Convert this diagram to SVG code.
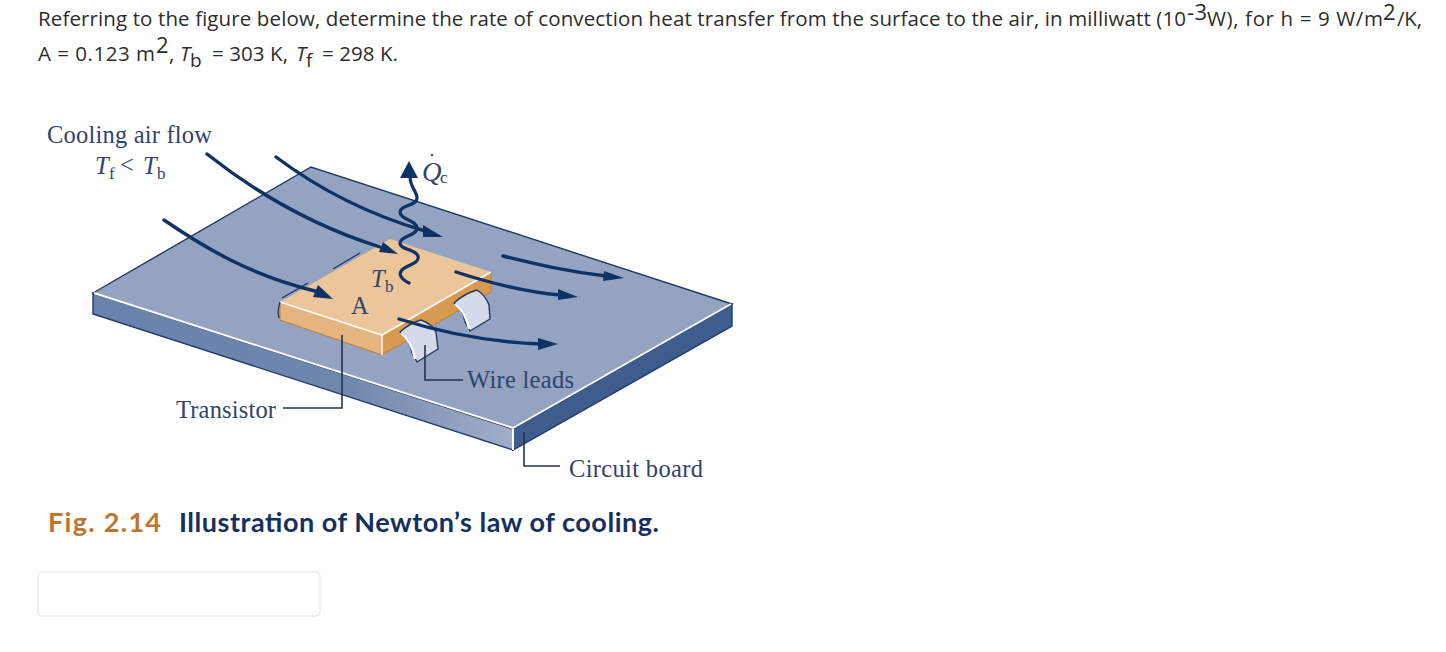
<svg xmlns="http://www.w3.org/2000/svg" width="1446" height="652" viewBox="0 0 1446 652">
<defs>
<linearGradient id="boardFront" gradientUnits="userSpaceOnUse" x1="93" y1="0" x2="513" y2="0">
<stop offset="0" stop-color="#6a82ab"/>
<stop offset="0.6" stop-color="#6f86ad"/>
<stop offset="1" stop-color="#a2aec8"/>
</linearGradient>
</defs>
<style>
.q{font-family:"Open Sans","Noto Sans",sans-serif;font-size:20.5px;fill:#2d2d2d}
.s{font-size:22px}
.u{font-size:19px}
.i{font-style:italic}
.l{font-family:"Liberation Serif",serif;font-size:24.5px;fill:#2f4468}
.t{font-size:17px}
.a{fill:none;stroke:#0f3264;stroke-width:3.4;stroke-linecap:round}
.h{fill:#0f3264}
.k{fill:none;stroke:#23324f;stroke-width:1.6}
.lead{fill:#d4daea;stroke:#22365f;stroke-width:1.4;stroke-linejoin:round}
.c{font-family:Lato,"Open Sans",sans-serif;font-weight:700;font-size:27px}
</style>
<rect width="1446" height="652" fill="#fff"/>
<g id="question">
<text class="q" x="38" y="26" textLength="1148">Referring to the figure below, determine the rate of convection heat transfer from the surface to the air, in milliwatt (10</text>
<text class="q s" x="1187" y="20" textLength="20">-3</text>
<text class="q" x="1207" y="26" textLength="176">W), for h = 9 W/m</text>
<text class="q s" x="1383" y="20">2</text>
<text class="q" x="1397" y="26" textLength="25">/K,</text>
<text class="q" x="38" y="61" textLength="117">A = 0.123 m</text>
<text class="q s" x="156" y="53">2</text>
<text class="q" x="169" y="61">,</text>
<text class="q i" x="180" y="61">T</text>
<text class="q u" x="190" y="67">b</text>
<text class="q" x="212" y="61" textLength="76">= 303 K,</text>
<text class="q i" x="296" y="61">T</text>
<text class="q u" x="306" y="67">f</text>
<text class="q" x="322" y="61" textLength="76">= 298 K.</text>
</g>
<g id="circuit-board">
<polygon points="93,293 311,167 732,304 513,429" fill="#94a3c2" stroke="#1f3a66" stroke-width="1.4"/>
<polygon points="93,293 513,429 513,450 93,314" fill="url(#boardFront)" stroke="#1f3a66" stroke-width="1.4"/>
<polygon points="513,429 732,304 732,326 513,450" fill="#3e5c8d" stroke="#1f3a66" stroke-width="1.4"/>
<polyline points="94,293 513,428 731,304" fill="none" stroke="#fff" stroke-width="2"/>
<line x1="513" y1="429" x2="513" y2="450" stroke="#fff" stroke-width="2"/>
</g>
<g id="transistor">
<polygon points="280,302 390,239 491,272 382,335" fill="#ecc59a"/>
<polygon points="280,302 382,335 382,355 280,320" fill="#e6b47e" stroke="#b97f3c" stroke-width="1"/>
<polygon points="382,335 491,272 491,292 382,355" fill="#d89a50" stroke="#b97f3c" stroke-width="1"/>
<polyline points="280,302 382,335 491,272" fill="none" stroke="#fff" stroke-width="1.8"/>
<line x1="382" y1="335" x2="382" y2="355" stroke="#fff" stroke-width="1.5"/>
<path d="M280,302 Q277,312 279,318 M282,298 L308,283 M333,269 L360,253" fill="none" stroke="#22365f" stroke-width="1.3"/>
</g>
<g id="wire-leads">
<path class="lead" d="M400,332 Q410,323 421,320 Q432,324 436,332 L438,349 L417,362 L412,353 Q410,340 400,332Z"/>
<path d="M401,333 Q412,342 415,359" fill="none" stroke="#fff" stroke-width="2.2"/>
<path class="lead" d="M454,303 Q465,293 477,290 Q486,296 489,305 L490,319 L470,331 L465,322 Q463,310 454,303Z"/>
<path d="M455,304 Q466,313 469,329" fill="none" stroke="#fff" stroke-width="2.2"/>
</g>
<g id="connectors">
<path class="k" d="M342,335V408H283"/>
<path class="k" d="M425,345V380H463"/>
<path class="k" d="M524,432V466H560"/>
<path class="a" d="M164,220C205,248 250,275 315,291"/>
<polygon class="h" points="333,299 318,285 313,297"/>
<path class="a" d="M207,154C250,188 310,225 380,247"/>
<polygon class="h" points="398,254 383,242 379,252"/>
<path class="a" d="M276,157C320,190 370,215 425,231"/>
<polygon class="h" points="443,237 423,225 423,237"/>
<path class="a" d="M503,256C540,265 570,272 606,276"/>
<polygon class="h" points="624,278 604,271 603,281"/>
<path class="a" d="M456,272C490,283 525,292 560,295"/>
<polygon class="h" points="578,297 558,289 558,300"/>
<path class="a" d="M399,319C440,332 490,342 540,344"/>
<polygon class="h" points="558,344 538,338 538,350"/>
<path class="a" style="stroke-width:3.2" d="M409,283C401,279 398,274 402,270C406,265 420,264 418,256C416,249 400,250 400,243C400,236 417,236 417,228C417,220 400,220 400,212C400,205 417,206 417,198C417,191 410,188 410,176"/>
<polygon class="h" points="409,161 400,178 418,178"/>
</g>
<g id="labels">
<text class="l" x="47" y="143" textLength="165">Cooling air flow</text>
<text class="l i" x="95" y="174">T</text>
<text class="l t" x="109" y="179">f</text>
<text class="l" x="120" y="173">&lt;</text>
<text class="l i" x="143" y="174">T</text>
<text class="l t" x="157" y="179">b</text>
<text class="l i" x="371" y="287">T</text>
<text class="l t" x="385" y="292">b</text>
<text class="l" x="351" y="314">A</text>
<text class="l i" x="422" y="181" style="font-size:27px">Q</text>
<circle cx="432" cy="155" r="1.2" fill="#2f4468"/>
<text class="l t" x="440" y="183">c</text>
<text class="l" x="176" y="418" textLength="100">Transistor</text>
<text class="l" x="467" y="388" textLength="107">Wire leads</text>
<text class="l" x="569" y="477" textLength="134">Circuit board</text>
</g>
<g id="caption">
<text class="c" x="48" y="532" fill="#bf7430" textLength="113">Fig. 2.14</text>
<text class="c" x="179" y="532" fill="#15305e" textLength="480">Illustration of Newton’s law of cooling.</text>
</g>
<rect id="answer-box" x="38" y="572" width="282" height="44" rx="4" fill="#fff" stroke="#e4e4e4" stroke-width="1.2"/>
</svg>
